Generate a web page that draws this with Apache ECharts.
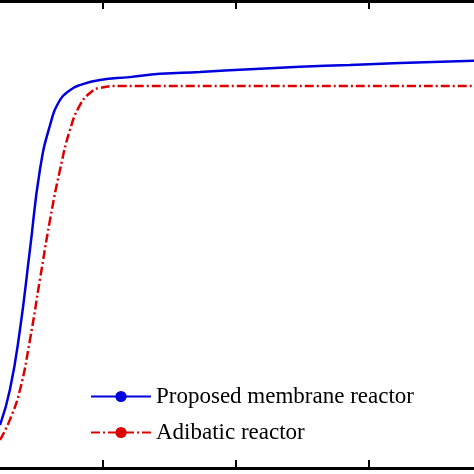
<!DOCTYPE html><html><head><meta charset="utf-8">
<script src="https://cdn.jsdelivr.net/npm/echarts@6/dist/echarts.min.js"></script>
<style>html,body{margin:0;background:#fff}#c{width:474px;height:474px}</style></head><body><div id="c"></div>
<script>
const blueX=[0.226,0.30,0.376,0.451,0.526,0.602,0.677,0.752,0.827,0.977,1.203,1.429,1.729,2.105,2.481,2.857,3.233,3.79];
const blueY=[9.2,16.7,29.6,46.7,63.8,73.4,78.8,80.9,82.0,83.1,83.7,84.4,84.8,85.4,85.9,86.3,86.7,87.2];
const redX=[0.226,0.30,0.376,0.451,0.526,0.602,0.677,0.752,0.827,0.902,0.977,1.128,3.79];
const redY=[6.0,10.3,16.7,27.4,40.3,53.1,63.8,72.4,77.7,80.3,81.4,81.8,81.8];
const tickValues=[1,2,3];
const names=['Proposed membrane reactor','Adibatic reactor'];
const zip=(a,b)=>a.map((v,i)=>[v,b[i]]);
const ch=echarts.init(document.getElementById('c'));
const ax={show:true,lineStyle:{color:'#000',width:3}};
const tick={show:true,inside:true,length:8,customValues:tickValues,lineStyle:{color:'#000',width:2}};
ch.setOption({
 animation:false,
 grid:{left:0,right:0,top:1,bottom:6,containLabel:false},
 xAxis:[{type:'value',min:0.226,max:3.79,axisLine:ax,axisTick:tick,axisLabel:{show:false},splitLine:{show:false}},
        {type:'value',position:'top',min:0.226,max:3.79,axisLine:ax,axisTick:tick,axisLabel:{show:false},splitLine:{show:false}}],
 yAxis:{type:'value',min:0,max:100,show:false},
 legend:{orient:'vertical',left:85,top:380,itemWidth:60,itemHeight:14,itemGap:13,
   textStyle:{fontFamily:'Liberation Serif',fontSize:23,color:'#000'},data:names},
 series:[
  {name:names[0],type:'line',smooth:true,symbol:'none',data:zip(blueX,blueY),lineStyle:{color:'#0000dd',width:2.5},itemStyle:{color:'#0000dd'}},
  {name:names[1],type:'line',smooth:true,symbol:'none',data:zip(redX,redY),lineStyle:{color:'#dd0000',width:2.5,type:[9,3,2,3]},itemStyle:{color:'#dd0000'}}
 ]
});
</script></body></html>
